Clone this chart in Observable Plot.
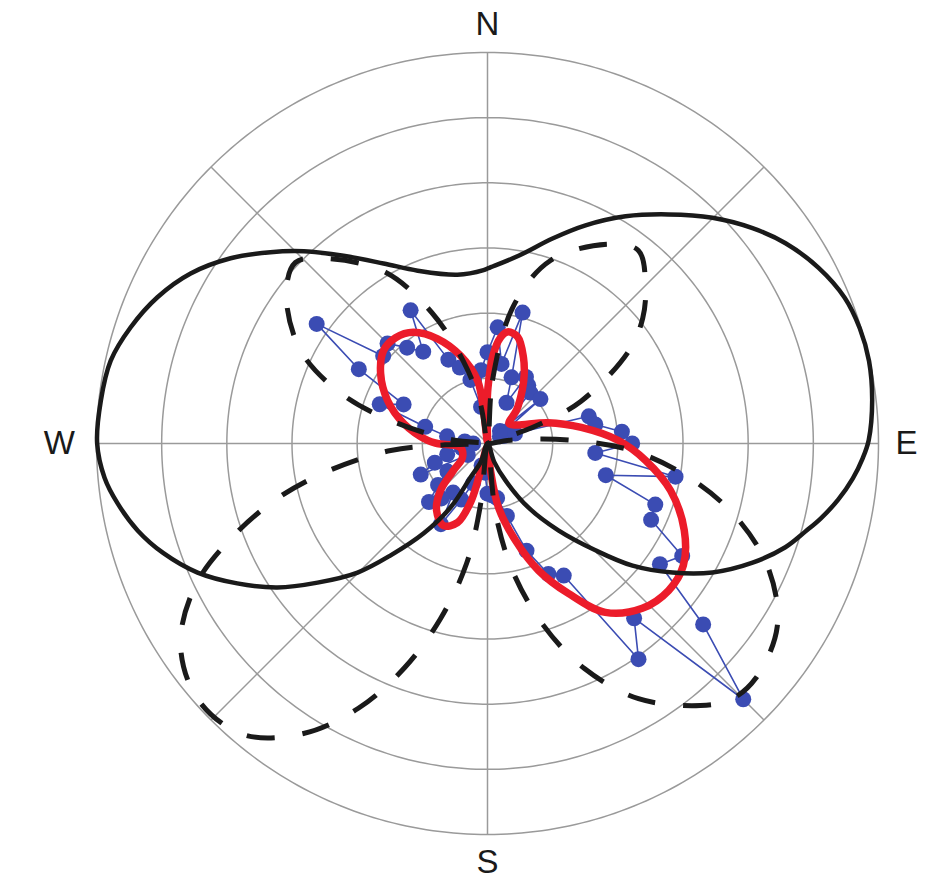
<!DOCTYPE html>
<html>
<head>
<meta charset="utf-8">
<script src="https://cdn.jsdelivr.net/npm/d3@7"></script>
<script src="https://cdn.jsdelivr.net/npm/@observablehq/plot@0.6"></script>
<style>
  html, body { margin: 0; padding: 0; background: #fff; }
  #chart svg { display: block; }
</style>
</head>
<body>
<div id="chart"></div>
<script>
// Grid
const rings = [1, 2, 3, 4, 5, 6];
const spokes = [0, 45, 90, 135, 180, 225, 270, 315];
const compass = ["N", "E", "S", "W"];
const compassBearing = [0, 90, 180, 270];
const compassRadius = [6.43, 6.43, 6.43, 6.57];

// Black solid curve (bearing in degrees clockwise from N, radius in ring units)
const solidBearing = [0.3, 9.4, 17.6, 24.2, 31.3, 38.3, 44.9, 50.9, 56.1, 62.0, 67.8, 72.8, 77.8, 83.6, 89.5, 92.3, 95.5, 99.1, 102.7, 105.5, 109.2, 114.2, 119.8, 124.9, 130.1, 134.7, 140.8, 147.4, 154.1, 160, 180, 200, 206.6, 210.0, 215.4, 220.9, 225.2, 230.7, 235.6, 240.8, 246.0, 251.3, 256.0, 260.8, 264.9, 270, 276.3, 282.4, 288.0, 293.9, 299.8, 305.8, 311.4, 316.3, 322.5, 330.0, 338.0, 349.9, 358.7];
const solidRadius = [2.69, 2.92, 3.30, 3.67, 4.08, 4.48, 4.89, 5.24, 5.51, 5.75, 5.92, 5.98, 5.99, 5.94, 5.85, 5.76, 5.63, 5.45, 5.24, 5.06, 4.84, 4.46, 3.98, 3.46, 2.91, 2.33, 1.72, 1.17, 0.63, 0.30, 0, 0.30, 0.58, 1.13, 1.69, 2.27, 2.81, 3.37, 3.91, 4.40, 4.87, 5.25, 5.53, 5.75, 5.90, 5.99, 5.97, 5.92, 5.76, 5.54, 5.25, 4.86, 4.44, 4.08, 3.63, 3.19, 2.86, 2.63, 2.66];

// Black dashed curve
const dashedBearing = [0, 4.5, 10.7, 19.0, 31.1, 38.0, 44.8, 51.1, 56.9, 65.7, 70.4, 76, 82, 88.0, 93.1, 99.6, 106.4, 114.0, 122.3, 131.2, 136.5, 140.9, 149.4, 156.7, 162.9, 168.9, 173.4, 180, 186.5, 189.9, 195.0, 200.3, 206.0, 212.4, 220.0, 228.6, 236.8, 244.1, 249.8, 255.5, 260.5, 265.9, 268, 272, 276, 282.9, 288.7, 296.4, 306.5, 313.3, 319.0, 329.2, 336.9, 343.7, 350];
const dashedRadius = [0, 0.97, 2.15, 2.97, 3.57, 3.76, 3.44, 3.06, 2.58, 1.57, 0.73, 0, 0.39, 1.34, 2.27, 3.14, 3.97, 4.72, 5.26, 5.47, 5.42, 5.18, 4.55, 3.76, 2.92, 1.99, 1.07, 0, 0.94, 1.87, 2.78, 3.67, 4.52, 5.27, 5.83, 5.93, 5.63, 4.98, 4.18, 3.31, 2.43, 1.49, 0.72, 0, 0.55, 1.45, 2.35, 3.20, 3.84, 4.05, 3.76, 3.06, 2.19, 1.31, 0.60];

// Red fitted curve
const fitBearing = [0.5, 3.5, 7, 10.2, 15.8, 22.7, 28, 33, 41, 47, 57, 71, 80.3, 88.7, 96.1, 104.4, 113.8, 121.9, 129.1, 136.8, 145.1, 151.6, 158.1, 163.9, 170.2, 173.7, 180, 194.4, 196.1, 200.8, 208.2, 217.3, 225, 231.5, 240.8, 261.6, 270, 272.9, 283.4, 293.3, 303.2, 311.8, 319.0, 326.3, 334.5, 342.9, 351.0, 353.1, 356, 359];
const fitRadius = [0.86, 1.35, 1.64, 1.74, 1.70, 1.43, 1.20, 0.98, 0.68, 0.45, 0.52, 0.98, 1.46, 2.01, 2.44, 2.90, 3.30, 3.54, 3.58, 3.47, 3.16, 2.62, 2.10, 1.55, 1.00, 0.42, 0.05, 0.55, 0.94, 1.30, 1.43, 1.29, 1.02, 0.67, 0.44, 0.42, 0.77, 0.92, 1.32, 1.67, 1.96, 2.14, 2.15, 2.05, 1.78, 1.41, 0.98, 0.51, 0.03, 0.50];

// Blue measured points, every 5 degrees
const measuredBearing = [0, 5, 10, 15, 20, 25, 30, 35, 40, 45, 50, 55, 60, 65, 70, 75, 80, 85, 90, 95, 100, 105, 110, 115, 120, 125, 130, 135, 140, 145, 150, 155, 160, 165, 170, 175, 180, 185, 190, 195, 200, 205, 210, 215, 220, 225, 230, 235, 240, 245, 250, 255, 260, 265, 270, 275, 280, 285, 290, 295, 300, 305, 310, 315, 320, 325, 330, 335, 340, 345, 350, 355];
const measuredRadius = [1.40, 1.79, 1.24, 2.08, 1.08, 0.69, 1.18, 1.09, 1.02, 0.27, 1.06, 0.30, 0.22, 0.28, 0.45, 1.61, 1.68, 2.07, 2.22, 1.66, 2.93, 1.88, 2.74, 2.77, 3.45, 3.23, 4.32, 5.55, 3.50, 4.04, 2.34, 2.21, 1.75, 1.15, 0.85, 0.80, 0.77, 0.45, 0.40, 0.35, 0.65, 0.95, 1.43, 0.92, 1.10, 1.27, 0.99, 0.75, 0.35, 1.13, 0.86, 0.64, 0.40, 0.28, 0.22, 0.35, 0.63, 0.99, 1.76, 1.42, 2.28, 3.20, 2.09, 2.17, 1.92, 1.72, 2.36, 1.42, 1.24, 1.01, 0.57, 1.13];

const rows = (B, R) => B.map((b, i) => ({b, r: R[i]}));
const solid = rows(solidBearing, solidRadius);
const dashed = rows(dashedBearing, dashedRadius);
const fit = rows(fitBearing, fitRadius);
const measured = rows(measuredBearing, measuredRadius);
const labels = compass.map((t, i) => ({t, b: compassBearing[i], r: compassRadius[i]}));

// bearing -> longitude, radius -> colatitude (pole at centre)
const lon = d => 180 - d.b;
const lat = d => 90 - d.r;

const GRID = "#9a9a9a";
const BLUE = "#3b4cb3";
const RED = "#ec1c2a";
const BLACK = "#1a1a1a";

const chart = Plot.plot({
  width: 951,
  height: 880,
  margin: 0,
  projection: {
    type: "azimuthal-equidistant",
    rotate: [0, -90],
    domain: d3.geoCircle().center([0, 90]).radius(6).precision(1)(),
    insetLeft: 96,
    insetRight: 73,
    insetTop: 52,
    insetBottom: 46
  },
  marks: [
    Plot.geo(rings, {
      geometry: r => d3.geoCircle().center([0, 90]).radius(r).precision(1)(),
      fill: "none", stroke: GRID, strokeWidth: 1.5
    }),
    Plot.link(spokes, {
      x1: b => 180 - b, y1: () => 90, x2: b => 180 - b, y2: () => 84,
      stroke: GRID, strokeWidth: 1.5
    }),
    Plot.line(measured, {x: lon, y: lat, curve: "linear-closed", stroke: BLUE, strokeWidth: 1.6}),
    Plot.dot(measured, {x: lon, y: lat, r: 8, fill: BLUE, stroke: "none"}),
    Plot.line(fit, {x: lon, y: lat, curve: "catmull-rom-closed", stroke: RED, strokeWidth: 7.5, strokeLinejoin: "round"}),
    Plot.line(solid, {x: lon, y: lat, curve: "catmull-rom-closed", stroke: BLACK, strokeWidth: 4.5}),
    Plot.line(dashed, {x: lon, y: lat, curve: "catmull-rom-closed", stroke: BLACK, strokeWidth: 5, strokeDasharray: "28,28", strokeLinecap: "butt"}),
    Plot.text(labels, {
      x: lon, y: lat, text: d => d.t,
      fontSize: 33, fontFamily: "Liberation Sans, Arial, Helvetica, sans-serif",
      fill: "#1a1a1a"
    })
  ]
});
document.getElementById("chart").append(chart);
</script>
</body>
</html>
